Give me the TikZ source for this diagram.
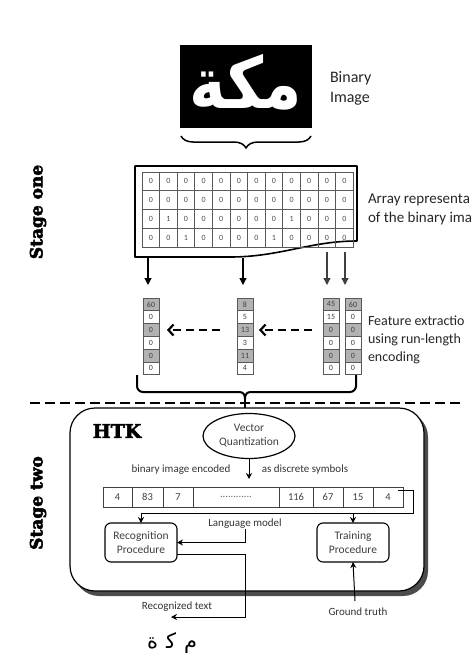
\documentclass[tikz,border=0pt]{standalone}
\usepackage{fontspec}
\setmainfont{Carlito}
\newfontfamily\arabicfont[Script=Arabic]{DejaVu Sans}
\newfontfamily\slabfont[FakeBold=3]{DejaVu Serif}
\TeXXeTstate=1
\usetikzlibrary{arrows.meta,decorations.pathreplacing,shapes.geometric,calc}
\begin{document}
\begin{tikzpicture}[x=1pt,y=-1pt,
  every node/.style={inner sep=0pt,outer sep=0pt},
  lbl/.style={font=\fontsize{15}{19}\selectfont,align=left,anchor=west,text=black!85},
  small/.style={font=\fontsize{11}{13}\selectfont,text=black!80},
  cell/.style={draw=black!65,line width=0.7pt,minimum width=17.6pt,minimum height=18.75pt,anchor=north west,font=\fontsize{8}{9}\selectfont,text=black!70},
  fcell/.style={draw=black!65,line width=0.7pt,minimum width=16pt,minimum height=12.8pt,anchor=north west,font=\fontsize{8}{9}\selectfont,text=black!75},
  seqcell/.style={draw=black!75,line width=0.8pt,minimum height=20pt,anchor=north west,font=\fontsize{10.5}{12}\selectfont,text=black!75},
  proc/.style={draw,rounded corners=6pt,line width=1.1pt,minimum width=72pt,minimum height=39pt,anchor=north west,align=center,font=\fontsize{11.5}{13.5}\selectfont,text=black!75},
  arr/.style={-{Stealth[length=6pt,width=6pt]},line width=1pt},
  downarr/.style={-{Triangle[length=7pt,width=7pt]},line width=1.3pt},
  dasharr/.style={-{Straight Barb[length=5pt,width=11pt]},line width=2.2pt,dash pattern=on 8pt off 5pt},
  stagelbl/.style={rotate=90,font=\slabfont\bfseries\fontsize{17}{20}\selectfont},
]
\useasboundingbox (0,0) rectangle (474,666);
\clip (0,0) rectangle (474,666);

% ---------- Stage labels ----------
\node[stagelbl] (s1) at (38,212) {Stage one};
\node[stagelbl] (s2) at (38,503) {Stage two};

% ---------- binary image ----------
\node[fill=black,minimum width=132pt,minimum height=83pt,anchor=north west] (img) at (180,45) {};
\node[text=white,font=\arabicfont\bfseries\fontsize{62}{64}\selectfont,yscale=1.15] (imgtxt) at (246,82) {\beginR مكة\endR};
\node[anchor=west,align=left,font=\fontsize{16}{20}\selectfont,text=black!85] (binlbl) at (330,88) {Binary\\Image};

% brace
\coordinate (bl) at (181,136);
\coordinate (br) at (311,136);
\draw[decorate,decoration={brace,mirror,amplitude=12pt},line width=1.5pt] (bl) -- (br);

% ---------- array document ----------
\draw[line width=1.6pt,line join=round] (135,166) -- (357,166) -- (357,241)
   .. controls (310,241) and (280,257) .. (230,257) -- (135,257) -- cycle;
\foreach \row [count=\r] in {{0,0,0,0,0,0,0,0,0,0,0,0},{0,0,0,0,0,0,0,0,0,0,0,0},{0,1,0,0,0,0,0,0,1,0,0,0},{0,0,1,0,0,0,0,1,0,0,0,0}}{
  \foreach \v [count=\c] in \row {
    \node[cell] (g\r-\c) at ({142+(\c-1)*17.6},{172+(\r-1)*18.75}) {\v};
  }
}
\node[lbl] (arrlbl) at (368,209) {Array representa\\of the binary ima};

% down arrows
\coordinate (a1) at (148,258); \coordinate (b1) at (148,285);
\coordinate (a2) at (243,258); \coordinate (b2) at (243,285);
\coordinate (a3) at (327,252); \coordinate (b3) at (327,285);
\coordinate (a4) at (345,252); \coordinate (b4) at (345,285);
\draw[downarr] (a1) -- (b1);
\draw[downarr] (a2) -- (b2);
\draw[downarr,black!75] (a3) -- (b3);
\draw[downarr,black!75] (a4) -- (b4);

% ---------- feature columns ----------
\foreach \x/\vals [count=\k] in {143/{60,0,0,0,0,0},237/{8,5,13,3,11,4},323/{45,15,0,0,0,0},345/{60,0,0,0,0,0}}{
  \foreach \v [count=\i] in \vals {
    \ifodd\i\def\fc{black!30}\else\def\fc{white}\fi
    \node[fcell,fill=\fc] (f\k-\i) at (\x,{298+(\i-1)*12.8}) {\v};
  }
}
\draw[dasharr] ($(f3-3.west)+(-11,0)$) -- ($(f2-3.east)+(6,0)$);
\draw[dasharr] ($(f2-3.west)+(-17,0)$) -- ($(f1-3.east)+(8,0)$);
\node[lbl,font=\fontsize{14}{18}\selectfont] (featlbl) at (368,340) {Feature extractio\\using run-length\\encoding};

% bracket under columns
\coordinate (kl) at (137,375);
\coordinate (kr) at (356,375);
\coordinate (km) at (245,399);
\draw[line width=2pt,rounded corners=6pt] (kl) -- (137,392) -- (239,392);
\draw[line width=2pt,rounded corners=6pt] (kr) -- (356,392) -- (251,392);
\draw[line width=2pt] (239,392) .. controls (243,392) and (245,394) .. (km);
\draw[line width=2pt] (251,392) .. controls (247,392) and (245,394) .. (km);

% separator
\coordinate (sepl) at (30,403);
\coordinate (sepr) at (462,403);
\draw[line width=2.8pt,dash pattern=on 10pt off 5pt] (sepl) -- (sepr);
\draw[line width=2pt] (km) -- (245,409);

% ---------- HTK box ----------
\fill[black!70,rounded corners=25pt] (74,412) rectangle (428,596);
\node[draw,fill=white,line width=1.2pt,rounded corners=25pt,minimum width=354pt,minimum height=183pt,anchor=north west] (htk) at (70,408) {};
\node[font=\slabfont\bfseries\fontsize{19}{20}\selectfont] (htklbl) at (117,431) {HTK};

\node[draw,ellipse,line width=1.2pt,minimum width=92pt,minimum height=45pt,align=center,font=\fontsize{11.5}{14}\selectfont,text=black!75] (vq) at (249,436) {Vector\\Quantization};
\coordinate (vqend) at (249,479);
\draw[arr] (vq.south) -- (vqend);
\node[small] (enc1) at (181,470) {binary image encoded};
\node[small] (enc2) at (305,470) {as discrete symbols};

% sequence
\foreach \a/\b/\t [count=\n] in {103/132/4,132/163/83,163/193/7,193/279/{\textcolor{black!60}{............}},279/313/116,313/343/67,343/373/15,373/403/4}{
  \pgfmathsetmacro\w{\b-\a}
  \node[seqcell,minimum width=\w pt] (q\n) at (\a,487) {\t};
}

\node[proc] (rec) at (105,523) {Recognition\\Procedure};
\node[proc] (trn) at (317,523) {Training\\Procedure};
\node[small] (lm) at (245,524) {Language model};

\coordinate (qs) at (398,490);
\coordinate (qc) at (413,513);
\draw[arr] (qs) -| (qc) -| (rec.north);
\draw[arr] (trn.north |- qc) -- (trn.north);
\draw[arr] (lm.south) |- (rec.east);

\coordinate (ro) at (177,554);
\coordinate (rd) at (245,617);
\coordinate (rt) at (171,617);
\draw[arr] (ro) -| (rd) -- (rt);
\node[small] (rtx) at (177,607) {Recognized text};
\node[font=\arabicfont\fontsize{21}{24}\selectfont] (ar) at (172,643) {\beginR م\hspace{8pt}ك‍\hspace{8pt}ة\endR};

\node[small] (gt) at (358,612) {Ground truth};
\coordinate (gs) at (355,601);
\draw[arr] (gs) -- (trn.south);
\end{tikzpicture}
\end{document}
